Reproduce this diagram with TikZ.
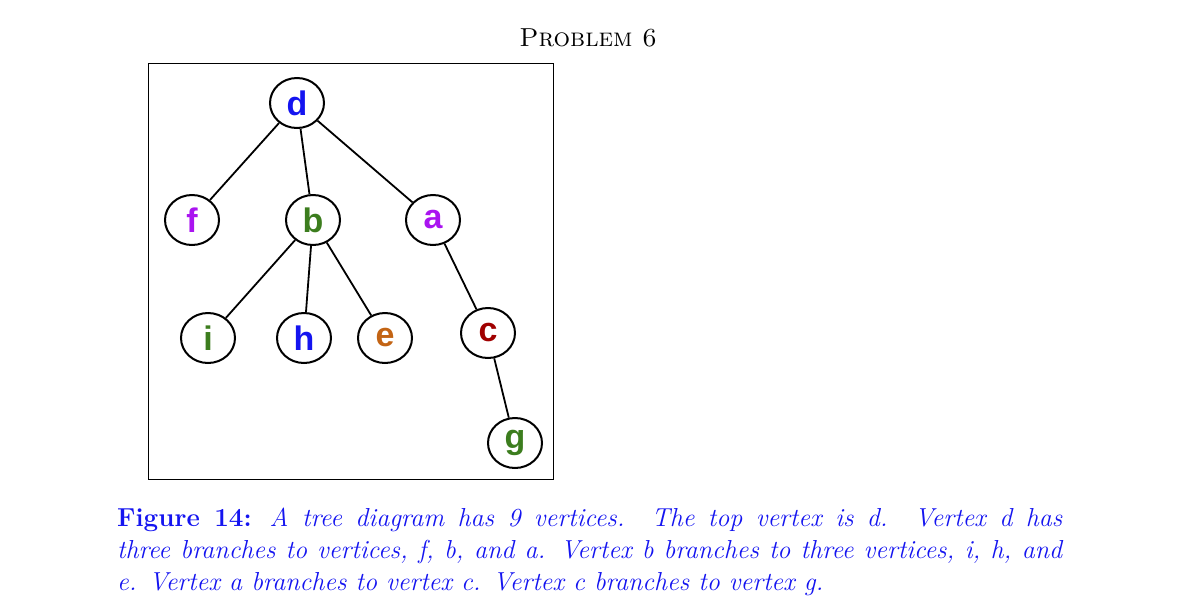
\documentclass[tikz,border=0pt]{standalone}
\usepackage{fontspec}
\usetikzlibrary{shapes.geometric}
\newfontfamily\nodefont{Liberation Sans}
\begin{document}
\begin{tikzpicture}[x=1pt,y=-1pt,
  v/.style={draw,line width=2pt,ellipse,minimum width=54pt,minimum height=50pt,inner sep=0pt,font=\nodefont\bfseries\fontsize{34}{34}\selectfont},
  e/.style={line width=1.8pt}]
\useasboundingbox (0,0) rectangle (1196,611);
\definecolor{cblue}{RGB}{20,20,240}
\definecolor{cpur}{RGB}{170,20,240}
\definecolor{cgreen}{RGB}{60,125,30}
\definecolor{corange}{RGB}{195,100,20}
\definecolor{cred}{RGB}{160,0,0}
\draw[line width=0.8pt] (148,63) rectangle (553,479);
\node[font=\fontsize{26}{26}\selectfont] (t) at (588,38) {\textsc{Problem 6}};
\node[v,text=cblue] (d) at (297,103) {d};
\node[v,text=cpur] (f) at (192,220) {f};
\node[v,text=cgreen] (b) at (313,220) {b};
\node[v,text=cpur] (a) at (433,220) {a};
\node[v,text=cgreen] (i) at (208,338) {i};
\node[v,text=cblue] (h) at (304,338) {h};
\node[v,text=corange] (ee) at (385,338) {e};
\node[v,text=cred] (c) at (488,333) {c};
\node[v,text=cgreen] (g) at (515,443) {g};
\draw[e] (d)--(f); \draw[e] (d)--(b); \draw[e] (d)--(a);
\draw[e] (b)--(i); \draw[e] (b)--(h); \draw[e] (b)--(ee);
\draw[e] (a)--(c); \draw[e] (c)--(g);
\node[anchor=north west,inner sep=0pt,text width=945pt,align=justify,text=cblue,
  font=\fontsize{26}{32}\selectfont] (cap) at (117,508)
 {\textbf{Figure 14:} \textit{A tree diagram has 9 vertices.\ \ The top vertex is d.\ \ Vertex d has\linebreak three branches to vertices, f, b, and a. Vertex b branches to three vertices, i, h, and\linebreak e. Vertex a branches to vertex c. Vertex c branches to vertex g.}};
\end{tikzpicture}
\end{document}
